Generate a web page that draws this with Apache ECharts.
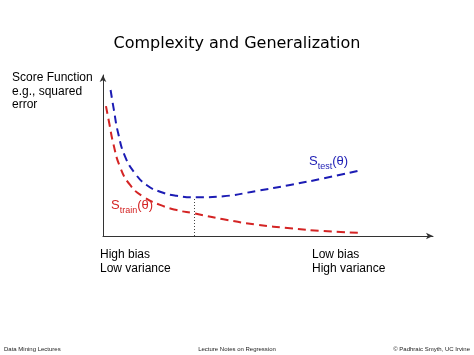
<!DOCTYPE html>
<html>
<head>
<meta charset="utf-8">
<script src="https://cdn.jsdelivr.net/npm/echarts@6/dist/echarts.min.js"></script>
<style>html,body{margin:0;padding:0;background:#fff;}#c{width:474px;height:355px;}</style>
</head>
<body>
<div id="c"></div>
<script>
// complexity (x) and score (y), in arbitrary units 0..100
const testX = [2.3, 3.3, 4.6, 6.7, 9.7, 13.2, 17.3, 22.3, 28.4, 36.5, 46.6, 56.7, 66.8, 77.9];
const testY = [90.7, 78.3, 63.8, 49.3, 38.9, 31.7, 27.5, 25.0, 24.0, 24.7, 28.0, 31.7, 35.8, 40.8];
const trainX = [0.9, 1.9, 3.1, 5.15, 8.2, 12.2, 17.3, 22.3, 27.5, 36.5, 46.6, 56.7, 66.8, 77.9];
const trainY = [80.7, 70.0, 57.6, 43.0, 31.7, 24.4, 19.3, 16.1, 14.1, 10.4, 7.0, 4.8, 3.1, 2.0];
const optimumX = [27.5];
const optimumY = [24.0];
const titleText = 'Complexity and Generalization';
const yLabelLines = ['Score Function', 'e.g., squared', 'error'];
const xLeftLines = ['High bias', 'Low variance'];
const xRightLines = ['Low bias', 'High variance'];
const footer = ['Data Mining Lectures', 'Lecture Notes on Regression', '© Padhraic Smyth, UC Irvine'];

const FONT = 'Liberation Sans, Arial, sans-serif';
const BLUE = '#1c1cb4';
const RED = '#d42424';
const chart = echarts.init(document.getElementById('c'));
const zip = (xs, ys) => xs.map((x, i) => [x, ys[i]]);

chart.setOption({
  animation: false,
  backgroundColor: '#fff',
  title: {
    text: titleText, left: 'center', top: 31,
    textStyle: { fontFamily: 'DejaVu Sans, sans-serif', fontWeight: 'normal', fontSize: 16, color: '#000' }
  },
  grid: { left: 103, top: 75, width: 330, height: 161 },
  xAxis: {
    type: 'value', min: 0, max: 100,
    axisLine: { show: true, onZero: false, symbol: ['none', 'arrow'], symbolSize: [5, 7], lineStyle: { color: '#333', width: 1 } },
    axisTick: { show: false }, axisLabel: { show: false }, splitLine: { show: false }
  },
  yAxis: {
    type: 'value', min: 0, max: 100,
    axisLine: { show: true, onZero: false, symbol: ['none', 'arrow'], symbolSize: [5, 7], lineStyle: { color: '#333', width: 1 } },
    axisTick: { show: false }, axisLabel: { show: false }, splitLine: { show: false }
  },
  series: [
    {
      type: 'line', smooth: true, showSymbol: false, data: zip(testX, testY),
      lineStyle: { color: BLUE, width: 2, type: [8, 5] },
      markLine: {
        silent: true, symbol: ['none', 'none'], label: { show: false },
        lineStyle: { color: '#444', width: 1, type: [1, 2] },
        data: [[{ coord: [optimumX[0], 0] }, { coord: [optimumX[0], optimumY[0]] }]]
      }
    },
    {
      type: 'line', smooth: true, showSymbol: false, data: zip(trainX, trainY),
      lineStyle: { color: RED, width: 2, type: [8, 5] }
    }
  ],
  graphic: [
    { type: 'text', left: 12, top: 71, style: { text: yLabelLines.join('\n'), font: '12px ' + FONT, lineHeight: 13.5, fill: '#000' } },
    { type: 'text', left: 100, top: 248, style: { text: xLeftLines.join('\n'), font: '12px ' + FONT, lineHeight: 13.5, fill: '#000' } },
    { type: 'text', left: 312, top: 248, style: { text: xRightLines.join('\n'), font: '12px ' + FONT, lineHeight: 13.5, fill: '#000' } },
    { type: 'text', left: 309, top: 155, style: {
      text: '{s|S}{b|test}{s|(θ)}', fill: BLUE,
      rich: { s: { fontSize: 13, fontFamily: FONT, fill: BLUE, verticalAlign: 'bottom' }, b: { fontSize: 9, fontFamily: FONT, fill: BLUE, verticalAlign: 'bottom', padding: [0, 0, -3, 0] } }
    } },
    { type: 'text', left: 111, top: 199, style: {
      text: '{s|S}{b|train}{s|(θ)}', fill: RED,
      rich: { s: { fontSize: 13, fontFamily: FONT, fill: RED, verticalAlign: 'bottom' }, b: { fontSize: 9, fontFamily: FONT, fill: RED, verticalAlign: 'bottom', padding: [0, 0, -3, 0] } }
    } },
    { type: 'text', left: 4, top: 346, style: { text: footer[0], font: '6px ' + FONT, fill: '#222' } },
    { type: 'text', left: 'center', top: 346, style: { text: footer[1], font: '6px ' + FONT, fill: '#222' } },
    { type: 'text', right: 4, top: 346, style: { text: footer[2], font: '6px ' + FONT, fill: '#222' } }
  ]
});
</script>
</body>
</html>
